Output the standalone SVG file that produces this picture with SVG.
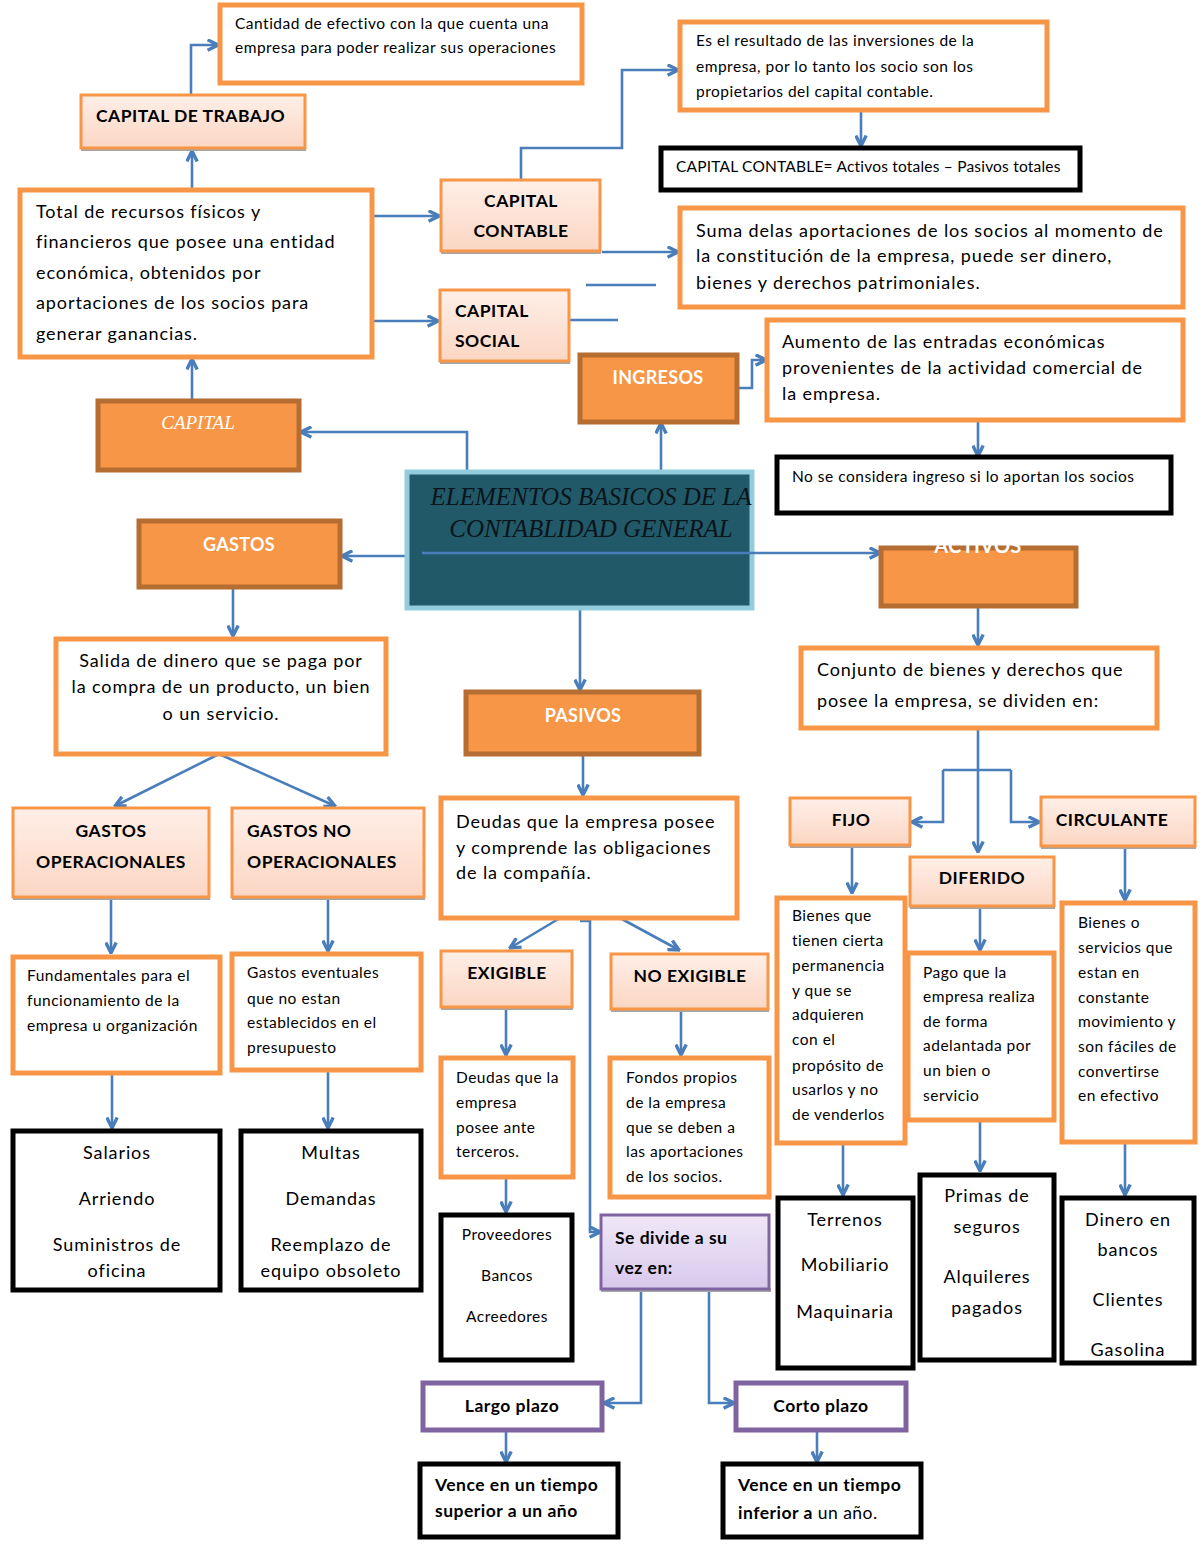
<svg xmlns="http://www.w3.org/2000/svg" width="1200" height="1553" viewBox="0 0 1200 1553">
<defs>
<linearGradient id="peach" x1="0" y1="0" x2="0" y2="1"><stop offset="0" stop-color="#FFEFE8"/><stop offset="1" stop-color="#FBD6C3"/></linearGradient>
<linearGradient id="lilac" x1="0" y1="0" x2="0" y2="1"><stop offset="0" stop-color="#EFE8F7"/><stop offset="1" stop-color="#D8C8EC"/></linearGradient>
<marker id="ah" viewBox="0 0 10 10" refX="9" refY="5" markerWidth="13" markerHeight="13" markerUnits="userSpaceOnUse" orient="auto"><path d="M1,1 L9,5 L1,9" fill="none" stroke="#4A7EBB" stroke-width="2.6"/></marker>
<style>
.ob{fill:#fff;stroke:#F79646;stroke-width:5}
.bb{fill:#fff;stroke:#000;stroke-width:5}
.pb{fill:url(#peach);stroke:#F79646;stroke-width:3}
.sh{fill:#A6A6A6}
.db{fill:#F79646;stroke:#B66D31;stroke-width:5}
.vb{fill:#fff;stroke:#8064A2;stroke-width:5}
.lb{fill:url(#lilac);stroke:#8064A2;stroke-width:3}
text{font-family:Lato,"Liberation Sans",sans-serif;fill:#000}
.s15{font-size:15.5px;letter-spacing:0.5px}
.s18{font-size:18px;letter-spacing:0.9px}
.h17{font-size:17.5px;font-weight:bold;letter-spacing:0.5px}
.w17{font-size:18px;font-weight:bold;fill:#fff;letter-spacing:0.3px}
.c{text-anchor:middle}
.ttl{font-family:"Liberation Serif","DejaVu Serif",serif;font-style:italic;font-size:25px;fill:#0A141B}
.cn{fill:none;stroke:#4A7EBB;stroke-width:2.6}
</style>
</defs>

<g id="connectors">
<path class="cn" d="M191,95 V45 H218" marker-end="url(#ah)"/>
<path class="cn" d="M192,190 V151" marker-end="url(#ah)"/>
<path class="cn" d="M372,216 H439" marker-end="url(#ah)"/>
<path class="cn" d="M372,321 H438" marker-end="url(#ah)"/>
<path class="cn" d="M521,180 V148 H622 V70 H678" marker-end="url(#ah)"/>
<path class="cn" d="M861,110 V146" marker-end="url(#ah)"/>
<path class="cn" d="M602,252 H678" marker-end="url(#ah)"/>
<path class="cn" d="M586,285 H656"/>
<path class="cn" d="M569,320 H618"/>
<path class="cn" d="M661,470 V423" marker-end="url(#ah)"/>
<path class="cn" d="M737,388 H752 V360 H766" marker-end="url(#ah)"/>
<path class="cn" d="M978,420 V456" marker-end="url(#ah)"/>
<path class="cn" d="M192,401 V359" marker-end="url(#ah)"/>
<path class="cn" d="M467,472 V432 H301" marker-end="url(#ah)"/>
<path class="cn" d="M407,556 H342" marker-end="url(#ah)"/>
<path class="cn" d="M580,608 V690" marker-end="url(#ah)"/>
<path class="cn" d="M233,588 V636" marker-end="url(#ah)"/>
<path class="cn" d="M219,754 L115,806" marker-end="url(#ah)"/>
<path class="cn" d="M219,754 L335,806" marker-end="url(#ah)"/>
<path class="cn" d="M111,898 V953" marker-end="url(#ah)"/>
<path class="cn" d="M328,898 V951" marker-end="url(#ah)"/>
<path class="cn" d="M112,1073 V1128" marker-end="url(#ah)"/>
<path class="cn" d="M328,1071 V1128" marker-end="url(#ah)"/>
<path class="cn" d="M583,754 V795" marker-end="url(#ah)"/>
<path class="cn" d="M560,918 L510,948" marker-end="url(#ah)"/>
<path class="cn" d="M620,918 L679,950" marker-end="url(#ah)"/>
<path class="cn" d="M580,921 H590 V1232 H600" marker-end="url(#ah)"/>
<path class="cn" d="M506,1009 V1055" marker-end="url(#ah)"/>
<path class="cn" d="M681,1010 V1055" marker-end="url(#ah)"/>
<path class="cn" d="M506,1177 V1212" marker-end="url(#ah)"/>
<path class="cn" d="M641,1290 V1403 H604" marker-end="url(#ah)"/>
<path class="cn" d="M709,1290 V1403 H734" marker-end="url(#ah)"/>
<path class="cn" d="M506,1431 V1462" marker-end="url(#ah)"/>
<path class="cn" d="M817,1431 V1462" marker-end="url(#ah)"/>
<path class="cn" d="M978,588 V645" marker-end="url(#ah)"/>
<path class="cn" d="M978,728 V852" marker-end="url(#ah)"/>
<path class="cn" d="M943,770 H1011"/>
<path class="cn" d="M943,770 V822 H912" marker-end="url(#ah)"/>
<path class="cn" d="M1011,770 V822 H1039" marker-end="url(#ah)"/>
<path class="cn" d="M852,846 V893" marker-end="url(#ah)"/>
<path class="cn" d="M980,907 V950" marker-end="url(#ah)"/>
<path class="cn" d="M1125,848 V900" marker-end="url(#ah)"/>
<path class="cn" d="M843,1144 V1195" marker-end="url(#ah)"/>
<path class="cn" d="M980,1120 V1171" marker-end="url(#ah)"/>
<path class="cn" d="M1125,1143 V1195" marker-end="url(#ah)"/>
</g>

<g id="n-efectivo"><rect class="ob" x="220" y="5" width="362" height="78"/>
<text class="s15" x="235" y="29">Cantidad de efectivo con la que cuenta una</text>
<text class="s15" x="235" y="53">empresa para poder realizar sus operaciones</text></g>

<g id="n-capital-trabajo"><rect class="sh" x="81" y="147" width="225" height="4"/><rect class="pb" x="81" y="95" width="224" height="53"/>
<text class="h17" x="96" y="122">CAPITAL DE TRABAJO</text></g>

<g id="n-total-recursos"><rect class="ob" x="20" y="190" width="352" height="167"/>
<text class="s18" x="36" y="218">Total de recursos físicos y</text>
<text class="s18" x="36" y="248">financieros que posee una entidad</text>
<text class="s18" x="36" y="279">económica, obtenidos por</text>
<text class="s18" x="36" y="309">aportaciones de los socios para</text>
<text class="s18" x="36" y="340">generar ganancias.</text></g>

<g id="n-capital-contable"><rect class="sh" x="441" y="250" width="160" height="4"/><rect class="pb" x="441" y="180" width="159" height="71"/>
<text class="h17 c" x="521" y="207">CAPITAL</text>
<text class="h17 c" x="521" y="237">CONTABLE</text></g>

<g id="n-capital-social"><rect class="sh" x="440" y="360" width="130" height="4"/><rect class="pb" x="440" y="290" width="129" height="71"/>
<text class="h17" x="455" y="317">CAPITAL</text>
<text class="h17" x="455" y="347">SOCIAL</text></g>

<g id="n-resultado"><rect class="ob" x="680" y="22" width="367" height="88"/>
<text class="s15" x="696" y="46">Es el resultado de las inversiones de la</text>
<text class="s15" x="696" y="72">empresa, por lo tanto los socio son los</text>
<text class="s15" x="696" y="97">propietarios del capital contable.</text></g>

<g id="n-formula"><rect class="bb" x="661" y="148" width="419" height="42"/>
<text class="s15" x="676" y="172" style="letter-spacing:0.2px">CAPITAL CONTABLE= Activos totales – Pasivos totales</text></g>

<g id="n-suma"><rect class="ob" x="680" y="208" width="503" height="99"/>
<text class="s18" x="696" y="237">Suma delas aportaciones de los socios al momento de</text>
<text class="s18" x="696" y="262">la constitución de la empresa, puede ser dinero,</text>
<text class="s18" x="696" y="289">bienes y derechos patrimoniales.</text></g>

<g id="n-ingresos"><rect class="db" x="580" y="355" width="157" height="67"/>
<text class="w17 c" x="658" y="384">INGRESOS</text></g>

<g id="n-aumento"><rect class="ob" x="767" y="320" width="416" height="100"/>
<text class="s18" x="782" y="348">Aumento de las entradas económicas</text>
<text class="s18" x="782" y="374">provenientes  de la actividad comercial de</text>
<text class="s18" x="782" y="400">la empresa.</text></g>

<g id="n-no-ingreso"><rect class="bb" x="777" y="457" width="394" height="56"/>
<text class="s15" x="792" y="482">No se considera ingreso si lo aportan los socios</text></g>

<g id="n-capital"><rect class="db" x="98" y="401" width="201" height="69"/>
<text class="c" x="198" y="429" style="font-family:'Liberation Serif','DejaVu Serif',serif;font-style:italic;font-size:19px;fill:#fff">CAPITAL</text></g>

<g id="n-titulo"><rect x="407" y="472" width="345" height="136" fill="#215968" stroke="#93CDDD" stroke-width="5"/>
<text class="ttl c" x="591" y="505">ELEMENTOS BASICOS DE LA</text>
<text class="ttl c" x="591" y="537">CONTABLIDAD GENERAL</text>
<path class="cn" d="M422,553 H880" marker-end="url(#ah)"/></g>

<g id="n-gastos"><rect class="db" x="139" y="521" width="201" height="66"/>
<text class="w17 c" x="239" y="551">GASTOS</text></g>

<g id="n-salida"><rect class="ob" x="56" y="639" width="330" height="115"/>
<text class="s18 c" x="221" y="667">Salida de dinero que se paga por</text>
<text class="s18 c" x="221" y="693">la compra de un producto, un bien</text>
<text class="s18 c" x="221" y="720">o un servicio.</text></g>

<g id="n-gastos-op"><rect class="sh" x="13" y="896" width="197" height="4"/><rect class="pb" x="13" y="808" width="196" height="89"/>
<text class="h17 c" x="111" y="837">GASTOS</text>
<text class="h17 c" x="111" y="868">OPERACIONALES</text></g>

<g id="n-gastos-no-op"><rect class="sh" x="232" y="896" width="193" height="4"/><rect class="pb" x="232" y="808" width="192" height="89"/>
<text class="h17" x="247" y="837">GASTOS NO</text>
<text class="h17" x="247" y="868">OPERACIONALES</text></g>

<g id="n-fundamentales"><rect class="ob" x="13" y="957" width="207" height="116"/>
<text class="s15" x="27" y="981">Fundamentales para el</text>
<text class="s15" x="27" y="1006">funcionamiento de la</text>
<text class="s15" x="27" y="1031">empresa u organización</text></g>

<g id="n-eventuales"><rect class="ob" x="232" y="954" width="189" height="116"/>
<text class="s15" x="247" y="978">Gastos eventuales</text>
<text class="s15" x="247" y="1004">que no estan</text>
<text class="s15" x="247" y="1028">establecidos en el</text>
<text class="s15" x="247" y="1053">presupuesto</text></g>

<g id="n-salarios"><rect class="bb" x="13" y="1131" width="207" height="159"/>
<text class="s18 c" x="117" y="1159">Salarios</text>
<text class="s18 c" x="117" y="1205">Arriendo</text>
<text class="s18 c" x="117" y="1251">Suministros de</text>
<text class="s18 c" x="117" y="1277">oficina</text></g>

<g id="n-multas"><rect class="bb" x="241" y="1131" width="180" height="159"/>
<text class="s18 c" x="331" y="1159">Multas</text>
<text class="s18 c" x="331" y="1205">Demandas</text>
<text class="s18 c" x="331" y="1251">Reemplazo de</text>
<text class="s18 c" x="331" y="1277">equipo obsoleto</text></g>

<g id="n-pasivos"><rect class="db" x="466" y="692" width="233" height="62"/>
<text class="w17 c" x="583" y="722">PASIVOS</text></g>

<g id="n-deudas"><rect class="ob" x="441" y="798" width="296" height="120"/>
<text class="s18" x="456" y="828">Deudas que la empresa posee</text>
<text class="s18" x="456" y="854">y comprende las obligaciones</text>
<text class="s18" x="456" y="879">de la compañía.</text></g>

<g id="n-exigible"><rect class="sh" x="441" y="1006" width="132" height="4"/><rect class="pb" x="441" y="951" width="131" height="56"/>
<text class="h17 c" x="507" y="979">EXIGIBLE</text></g>

<g id="n-no-exigible"><rect class="sh" x="611" y="1008" width="158" height="4"/><rect class="pb" x="611" y="954" width="157" height="55"/>
<text class="h17 c" x="690" y="982">NO EXIGIBLE</text></g>

<g id="n-deudas-terceros"><rect class="ob" x="441" y="1058" width="132" height="119"/>
<text class="s15" x="456" y="1083">Deudas que la</text>
<text class="s15" x="456" y="1108">empresa</text>
<text class="s15" x="456" y="1133">posee ante</text>
<text class="s15" x="456" y="1157">terceros.</text></g>

<g id="n-fondos"><rect class="ob" x="610" y="1058" width="159" height="139"/>
<text class="s15" x="626" y="1083">Fondos propios</text>
<text class="s15" x="626" y="1108">de la empresa</text>
<text class="s15" x="626" y="1133">que se deben a</text>
<text class="s15" x="626" y="1157">las aportaciones</text>
<text class="s15" x="626" y="1182">de los socios.</text></g>

<g id="n-proveedores"><rect class="bb" x="441" y="1215" width="131" height="145"/>
<text class="s15 c" x="507" y="1240">Proveedores</text>
<text class="s15 c" x="507" y="1281">Bancos</text>
<text class="s15 c" x="507" y="1322">Acreedores</text></g>

<g id="n-se-divide"><rect class="sh" x="601" y="1288" width="170" height="4"/><rect class="lb" x="601" y="1215" width="168" height="74"/>
<text class="h17" x="615" y="1244">Se divide a su</text>
<text class="h17" x="615" y="1274">vez en:</text></g>

<g id="n-largo"><rect class="vb" x="423" y="1383" width="179" height="47"/>
<text class="h17 c" x="512" y="1412">Largo plazo</text></g>

<g id="n-corto"><rect class="vb" x="736" y="1383" width="170" height="47"/>
<text class="h17 c" x="821" y="1412">Corto plazo</text></g>

<g id="n-vence-sup"><rect class="bb" x="420" y="1464" width="198" height="73"/>
<text class="h17" x="435" y="1491">Vence en un tiempo</text>
<text class="h17" x="435" y="1517">superior  a un año</text></g>

<g id="n-vence-inf"><rect class="bb" x="723" y="1464" width="198" height="73"/>
<text class="h17" x="738" y="1491">Vence en un tiempo</text>
<text class="h17" x="738" y="1519">inferior a <tspan font-weight="normal">un año.</tspan></text></g>

<g id="n-activos"><rect class="db" x="881" y="548" width="195" height="58"/>
<text class="w17 c" x="978" y="553" style="font-size:20px">ACTIVOS</text></g>

<g id="n-conjunto"><rect class="ob" x="801" y="648" width="356" height="80"/>
<text class="s18" x="817" y="676">Conjunto de bienes y derechos que</text>
<text class="s18" x="817" y="707">posee la empresa, se dividen en:</text></g>

<g id="n-fijo"><rect class="sh" x="790" y="844" width="121" height="4"/><rect class="pb" x="790" y="798" width="120" height="47"/>
<text class="h17 c" x="851" y="826">FIJO</text></g>

<g id="n-diferido"><rect class="sh" x="910" y="905" width="145" height="4"/><rect class="pb" x="910" y="857" width="144" height="49"/>
<text class="h17 c" x="982" y="884">DIFERIDO</text></g>

<g id="n-circulante"><rect class="sh" x="1041" y="845" width="155" height="4"/><rect class="pb" x="1041" y="797" width="154" height="49"/>
<text class="h17 c" x="1112" y="826">CIRCULANTE</text></g>

<g id="n-bienes-fijo"><rect class="ob" x="777" y="898" width="128" height="245"/>
<text class="s15" x="792" y="921">Bienes que</text>
<text class="s15" x="792" y="946">tienen cierta</text>
<text class="s15" x="792" y="971">permanencia</text>
<text class="s15" x="792" y="996">y que se</text>
<text class="s15" x="792" y="1020">adquieren</text>
<text class="s15" x="792" y="1045">con el</text>
<text class="s15" x="792" y="1071">propósito de</text>
<text class="s15" x="792" y="1095">usarlos y no</text>
<text class="s15" x="792" y="1120">de venderlos</text></g>

<g id="n-pago"><rect class="ob" x="908" y="953" width="146" height="167"/>
<text class="s15" x="923" y="978">Pago que la</text>
<text class="s15" x="923" y="1002">empresa realiza</text>
<text class="s15" x="923" y="1027">de forma</text>
<text class="s15" x="923" y="1051">adelantada por</text>
<text class="s15" x="923" y="1076">un bien o</text>
<text class="s15" x="923" y="1101">servicio</text></g>

<g id="n-bienes-circ"><rect class="ob" x="1062" y="903" width="133" height="239"/>
<text class="s15" x="1078" y="928">Bienes o</text>
<text class="s15" x="1078" y="953">servicios que</text>
<text class="s15" x="1078" y="978">estan en</text>
<text class="s15" x="1078" y="1003">constante</text>
<text class="s15" x="1078" y="1027">movimiento y</text>
<text class="s15" x="1078" y="1052">son fáciles de</text>
<text class="s15" x="1078" y="1077">convertirse</text>
<text class="s15" x="1078" y="1101">en efectivo</text></g>

<g id="n-terrenos"><rect class="bb" x="778" y="1198" width="135" height="170"/>
<text class="s18 c" x="845" y="1226">Terrenos</text>
<text class="s18 c" x="845" y="1271">Mobiliario</text>
<text class="s18 c" x="845" y="1318">Maquinaria</text></g>

<g id="n-primas"><rect class="bb" x="920" y="1175" width="134" height="185"/>
<text class="s18 c" x="987" y="1202">Primas de</text>
<text class="s18 c" x="987" y="1233">seguros</text>
<text class="s18 c" x="987" y="1283">Alquileres</text>
<text class="s18 c" x="987" y="1314">pagados</text></g>

<g id="n-dinero"><rect class="bb" x="1062" y="1198" width="132" height="165"/>
<text class="s18 c" x="1128" y="1226">Dinero en</text>
<text class="s18 c" x="1128" y="1256">bancos</text>
<text class="s18 c" x="1128" y="1306">Clientes</text>
<text class="s18 c" x="1128" y="1356">Gasolina</text></g>
</svg>
